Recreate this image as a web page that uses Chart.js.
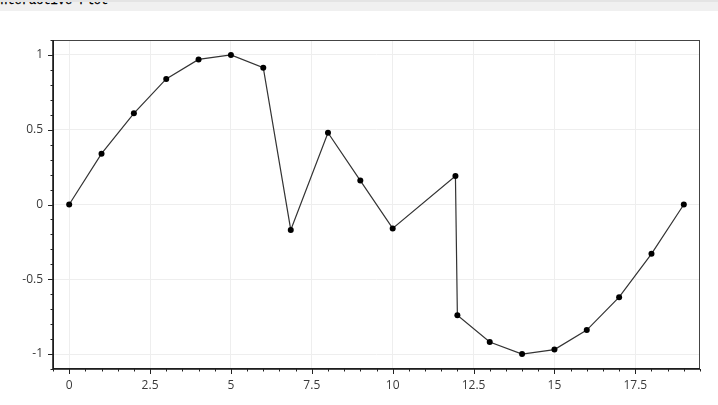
<!DOCTYPE html>
<html>
<head>
<meta charset="utf-8">
<title>Interactive Plot</title>
<script src="https://cdn.jsdelivr.net/npm/chart.js@4/dist/chart.umd.min.js"></script>
<style>
  html, body { margin: 0; padding: 0; background: #fff; overflow: hidden; }
  #wrap { position: relative; width: 718px; height: 405px; }
  #bar {
    position: absolute; left: 0; top: 0; width: 718px; height: 11px;
    background: #f0f0f0; border-top: 2px solid #e4e4e4; box-sizing: border-box;
    overflow: hidden;
  }
  #bar span {
    position: absolute; left: -7px; top: -8px;
    font: 12px "Liberation Mono", monospace; color: #000; white-space: nowrap;
    -webkit-text-stroke: 0.3px #000;
  }
  #plot { position: absolute; left: 0; top: 0; }
</style>
</head>
<body>
<div id="wrap">
  <canvas id="plot" width="718" height="405"></canvas>
  <div id="bar"><span>Interactive Plot</span></div>
</div>
<script>
// data
const xValues = [0, 1, 2, 3, 4, 5, 6, 6.85, 8, 9, 10, 11.94, 12, 13, 14, 15, 16, 17, 18, 19];
const yValues = [0, 0.34, 0.61, 0.84, 0.97, 1.0, 0.915, -0.17, 0.48, 0.16, -0.16, 0.19, -0.74, -0.92, -1.0, -0.97, -0.84, -0.62, -0.33, 0];

// axis ticks
const xTicks = [0, 2.5, 5, 7.5, 10, 12.5, 15, 17.5];
const yTicks = [-1, -0.5, 0, 0.5, 1];
const xRange = [-0.5, 19.5];
const yRange = [-1.1, 1.1];
const xMinorStep = 0.5;
const yMinorStep = 0.1;

const labelColor = '#3a3a3a';

// small tick marks, like the original plot
const tickMarks = {
  id: 'tickMarks',
  afterDraw(chart) {
    const { ctx, chartArea: a, scales: { x, y } } = chart;
    ctx.save();
    // frame
    ctx.strokeStyle = '#444';
    ctx.lineWidth = 1;
    ctx.strokeRect(a.left + 0.5, a.top + 0.5, a.right - a.left - 1, a.bottom - a.top - 1);
    // axis lines
    ctx.strokeStyle = '#111';
    ctx.lineWidth = 1.5;
    ctx.beginPath();
    ctx.moveTo(a.left, a.top);
    ctx.lineTo(a.left, a.bottom);
    ctx.lineTo(a.right, a.bottom);
    ctx.stroke();

    ctx.lineWidth = 1;
    ctx.strokeStyle = '#222';
    ctx.beginPath();
    for (let v = xRange[0]; v <= xRange[1] + 1e-9; v += xMinorStep) {
      const px = Math.round(x.getPixelForValue(v)) + 0.5;
      const major = xTicks.some(t => Math.abs(t - v) < 1e-6);
      ctx.moveTo(px, a.bottom);
      ctx.lineTo(px, a.bottom + (major ? 5 : 2.5));
    }
    for (let v = yRange[0]; v <= yRange[1] + 1e-9; v += yMinorStep) {
      const py = Math.round(y.getPixelForValue(v)) + 0.5;
      const major = yTicks.some(t => Math.abs(t - v) < 1e-6);
      ctx.moveTo(a.left, py);
      ctx.lineTo(a.left - (major ? 5 : 2.5), py);
    }
    ctx.stroke();
    ctx.restore();
  }
};

new Chart(document.getElementById('plot').getContext('2d'), {
  type: 'scatter',
  data: {
    datasets: [{
      data: xValues.map((v, i) => ({ x: v, y: yValues[i] })),
      showLine: true,
      borderColor: '#333',
      borderWidth: 1.2,
      pointRadius: 3,
      pointBackgroundColor: '#000',
      pointBorderColor: '#000',
      pointBorderWidth: 0,
      tension: 0
    }]
  },
  options: {
    responsive: false,
    animation: false,
    devicePixelRatio: 1,
    layout: { padding: { top: 40, right: 18, left: 0, bottom: 0 } },
    plugins: { legend: { display: false }, tooltip: { enabled: false } },
    scales: {
      x: {
        type: 'linear',
        min: xRange[0], max: xRange[1],
        afterBuildTicks: s => { s.ticks = xTicks.map(v => ({ value: v })); },
        afterFit: s => { s.height = 36; },
        grid: { color: '#eeeeee', drawTicks: false },
        border: { display: false },
        ticks: {
          padding: 9,
          color: labelColor,
          font: { family: 'Open Sans', size: 12 },
          maxRotation: 0,
          callback: v => String(v)
        }
      },
      y: {
        min: yRange[0], max: yRange[1],
        afterBuildTicks: s => { s.ticks = yTicks.map(v => ({ value: v })); },
        afterFit: s => { s.width = 53; },
        grid: { color: '#eeeeee', drawTicks: false },
        border: { display: false },
        ticks: {
          padding: 10,
          color: labelColor,
          font: { family: 'Open Sans', size: 12 },
          callback: v => String(v)
        }
      }
    }
  },
  plugins: [tickMarks]
});
</script>
</body>
</html>
